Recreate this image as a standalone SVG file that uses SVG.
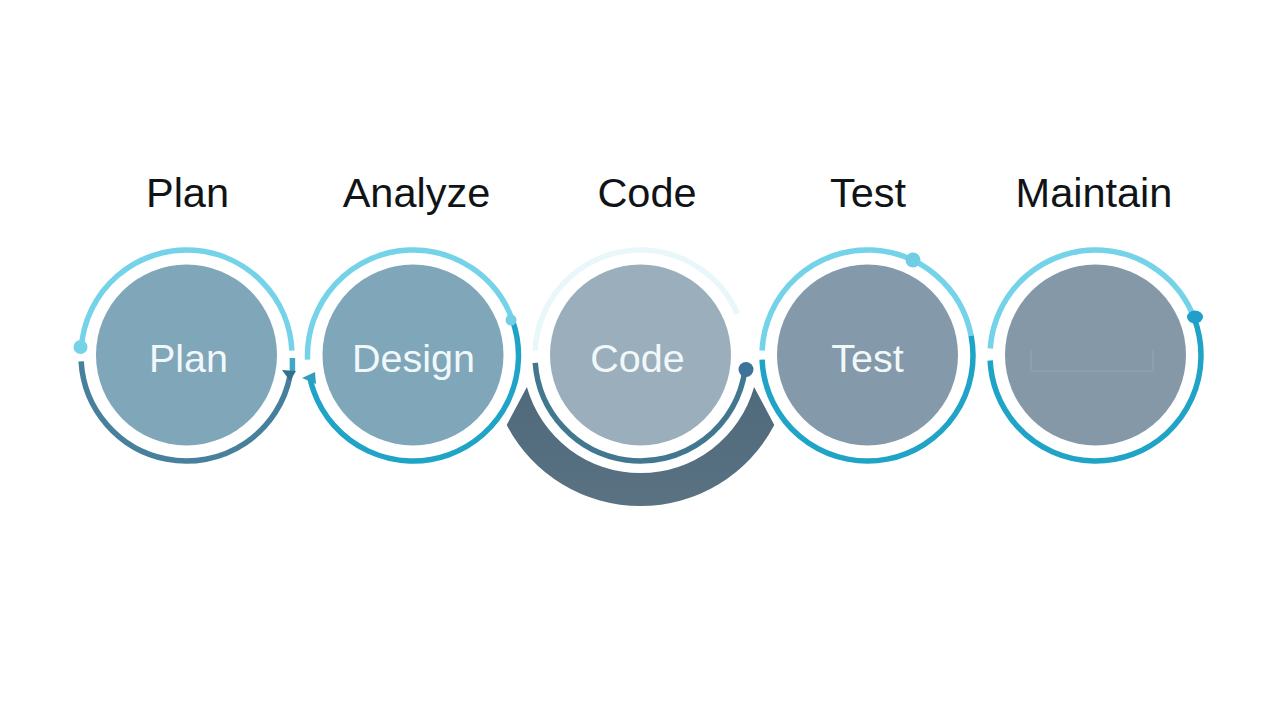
<svg xmlns="http://www.w3.org/2000/svg" width="1280" height="720" viewBox="0 0 1280 720">
<style>
text{font-family:"Liberation Sans",Arial,sans-serif;text-anchor:middle}
.t{font-size:41.500px;fill:#111417}
.i{font-size:39.500px;fill:#f1f8fa}
.a{fill:none;stroke-width:5.500}
.l{stroke:#74d3e8}
.c{stroke:#1fa3c6}
.d{stroke:#47809c}
</style>
<defs>
<linearGradient id="band" x1="0" y1="0" x2="0" y2="1"><stop offset="0" stop-color="#4f6a7c"/><stop offset="1" stop-color="#5a7282"/></linearGradient>
</defs>
<rect width="1280" height="720" fill="#fff"/>
<g id="labels">
<text class="t" x="187.500" y="207">Plan</text>
<text class="t" x="416.500" y="207">Analyze</text>
<text class="t" x="647" y="207">Code</text>
<text class="t" x="868" y="207">Test</text>
<text class="t" x="1094" y="207">Maintain</text>
</g>
<g id="connectors">
<path id="band-code" d="M526.900 387A118 118 0 0 0 754.100 387L774.300 425A151 151 0 0 1 506.700 425Z" fill="url(#band)"/>
</g>
<g id="node-plan">
<circle cx="186.500" cy="355" r="90.500" fill="#7fa6b9"/>
<circle class="a l" cx="186.500" cy="355.500" r="105.500" pathLength="360" stroke-dasharray="173 360" transform="rotate(184.300 186.500 355.500)"/>
<path class="a" stroke="#3fa9c4" d="M292.400 358V371"/>
<circle class="a d" cx="186.500" cy="355.500" r="105.500" pathLength="360" stroke-dasharray="165.800 360" transform="rotate(11 186.500 355.500)"/>
<circle cx="80.500" cy="347" r="7" fill="#74d3e8"/>
<polygon points="282,370 296,371 290,381" fill="#33708f"/>
<text class="i" x="188.500" y="372">Plan</text>
</g>
<g id="node-design">
<circle cx="413" cy="355" r="90.500" fill="#80a6b9"/>
<circle class="a l" cx="413" cy="355.500" r="105.500" pathLength="360" stroke-dasharray="162.500 360" transform="rotate(177.800 413 355.500)"/>
<circle class="a c" cx="413" cy="355.500" r="105.500" pathLength="360" stroke-dasharray="187.200 360" transform="rotate(340.300 413 355.500)"/>
<circle cx="511" cy="320" r="5.500" fill="#74cfe6"/>
<polygon points="302,378 315,372 316,384" fill="#2f9fbb"/>
<text class="i" x="413.500" y="372">Design</text>
</g>
<g id="node-code">
<circle cx="640.500" cy="355" r="90.500" fill="#9aaebb"/>
<circle class="a" stroke="#e9f7fa" cx="640.500" cy="355.500" r="105.500" pathLength="360" stroke-dasharray="154 360" transform="rotate(182.700 640.500 355.500)"/>
<circle class="a" stroke="#42788f" cx="640.500" cy="355.500" r="105.500" pathLength="360" stroke-dasharray="168 360" transform="rotate(8 640.500 355.500)"/>
<circle cx="746" cy="369.500" r="7.500" fill="#3d7398"/>
<text class="i" x="637.500" y="372">Code</text>
</g>
<g id="node-test">
<circle cx="867.500" cy="355" r="90.500" fill="#8499a9"/>
<circle class="a l" cx="867.500" cy="355.500" r="105.500" pathLength="360" stroke-dasharray="166.500 360" transform="rotate(182.700 867.500 355.500)"/>
<circle class="a c" cx="867.500" cy="355.500" r="105.500" pathLength="360" stroke-dasharray="188.600 360" transform="rotate(349.200 867.500 355.500)"/>
<circle cx="913" cy="260" r="7.500" fill="#6fcde4"/>
<text class="i" x="867.500" y="372">Test</text>
</g>
<g id="node-maintain">
<circle cx="1095.500" cy="355" r="90.500" fill="#8498a8"/>
<path d="M1033 350Q1031 350 1031 353V371H1153V353Q1153 350 1151 350" fill="none" stroke="#91a4b1" stroke-width="1.200"/>
<circle class="a l" cx="1095.500" cy="355.500" r="105.500" pathLength="360" stroke-dasharray="155.400 360" transform="rotate(183.800 1095.500 355.500)"/>
<circle class="a c" cx="1095.500" cy="355.500" r="105.500" pathLength="360" stroke-dasharray="198.100 360" transform="rotate(339.200 1095.500 355.500)"/>
<ellipse cx="1195" cy="317" rx="8" ry="6.500" fill="#1f9fcb"/>
</g>
</svg>
